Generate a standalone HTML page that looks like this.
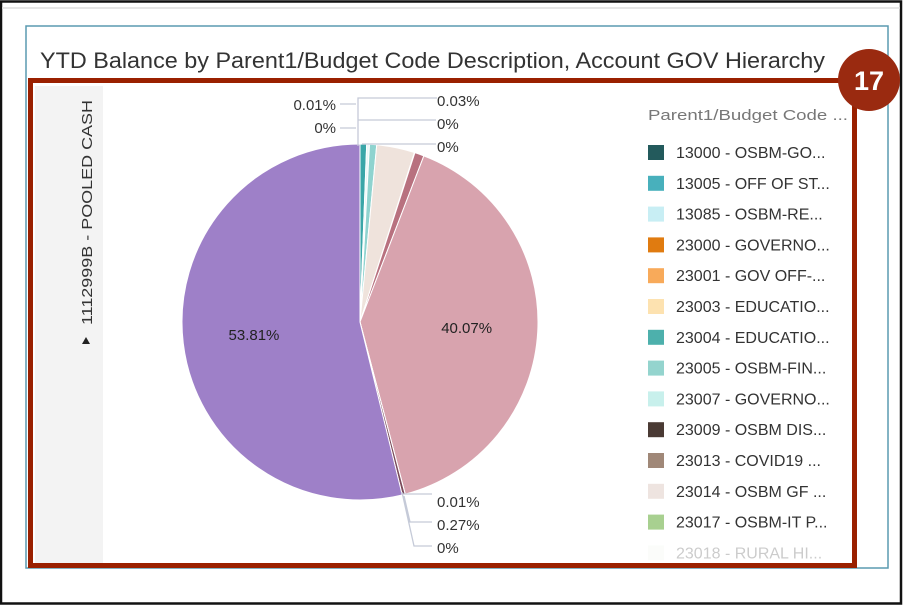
<!DOCTYPE html>
<html><head><meta charset="utf-8"><style>
body{margin:0;background:#fff;}
svg text{font-family:"Liberation Sans",sans-serif;}
</style></head><body>
<svg width="906" height="606" viewBox="0 0 906 606">
<rect x="1" y="1.5" width="900" height="602" fill="#fff" stroke="#111" stroke-width="2.5"/>
<line x1="2" y1="8" x2="900" y2="8" stroke="#ddd" stroke-width="1.5"/>
<rect x="26" y="26" width="862" height="542" fill="#fff" stroke="#5a9ab0" stroke-width="1.5"/>
<text x="40" y="68" font-size="22" fill="#333" textLength="785" lengthAdjust="spacingAndGlyphs">YTD Balance by Parent1/Budget Code Description, Account GOV Hierarchy</text>
<rect x="35" y="86" width="68" height="478" fill="#f3f3f3"/>
<text transform="translate(92,325) rotate(-90)" font-size="15" fill="#333" textLength="225" lengthAdjust="spacingAndGlyphs">1112999B - POOLED CASH</text>
<path d="M82,344 L86,337 L90,344Z" fill="#222"/>
<g id="pie"></g>
<g id="labels"></g>
<text x="648" y="120" font-size="15" fill="#777" textLength="200" lengthAdjust="spacingAndGlyphs">Parent1/Budget Code ...</text>
<g id="legend"></g>
<rect x="615" y="538" width="240" height="28" fill="#fff" opacity="0.75"/>
<rect x="30.5" y="80.5" width="824" height="485" fill="none" stroke="#9a2000" stroke-width="5"/>
<circle cx="869" cy="80" r="31" fill="#9a2a10"/>
<text x="869" y="90" font-size="27" font-weight="bold" fill="#fff" text-anchor="middle">17</text>
</svg>
<script>
const sliceNames=["13000","23007","23005","23014","23018","23015","23020","23021","23022","23023"];
const sliceValues=[0.6,0.25,0.65,3.45,0.04,0.85,40.07,0.01,0.27,53.81];
const sliceColors=["#3aa6a8","#eaf8f8","#8fd3cf","#efe3dc","#f6f2f0","#b8717f","#d8a3ae","#c8c0d8","#7a4a5a","#9e80c8"];
const sliceLabels=["","","","","","","40.07%","","","53.81%"];
const legendItems=["13000 - OSBM-GO...","13005 - OFF OF ST...","13085 - OSBM-RE...","23000 - GOVERNO...","23001 - GOV OFF-...","23003 - EDUCATIO...","23004 - EDUCATIO...","23005 - OSBM-FIN...","23007 - GOVERNO...","23009 - OSBM DIS...","23013 - COVID19 ...","23014 - OSBM GF ...","23017 - OSBM-IT P...","23018 - RURAL HI..."];
const legendColors=["#235a5c","#48b0bc","#c8eef4","#e07b10","#f8aa5a","#fde2b0","#4db0ac","#94d4ce","#c8f0ec","#4a3a34","#a08878","#eee4e0","#a8d090","#eef4ea"];
const topLeft=["0.01%","0%"],topRight=["0.03%","0%","0%"],bottomRight=["0.01%","0.27%","0%"];
const NS="http://www.w3.org/2000/svg";
const cx=360,cy=322,R=178;
function mk(t,a,p){const e=document.createElementNS(NS,t);for(const k in a)e.setAttribute(k,a[k]);p.appendChild(e);return e;}
function pt(a,r){return [cx+r*Math.sin(a),cy-r*Math.cos(a)];}
const total=sliceValues.reduce((a,b)=>a+b,0);
const pie=document.getElementById('pie');
let acc=0;
sliceValues.forEach((v,i)=>{
 const a0=acc/total*2*Math.PI;acc+=v;const a1=acc/total*2*Math.PI;
 const p0=pt(a0,R),p1=pt(a1,R);
 const p=mk('path',{d:`M${cx},${cy}L${p0[0]},${p0[1]}A${R},${R} 0 ${a1-a0>Math.PI?1:0} 1 ${p1[0]},${p1[1]}Z`,fill:sliceColors[i],stroke:'#fff','stroke-width':1},pie);
 
 
 if(sliceLabels[i]){const m=(a0+a1)/2;const q=pt(m,R*0.6);
  const t=mk('text',{x:q[0],y:q[1]+5,'font-size':15,fill:'#222','text-anchor':'middle'},pie);t.textContent=sliceLabels[i];
  
  }
});
const L=document.getElementById('labels');
const lc='#c5cad8';
function txt(x,y,s,anc){const t=mk('text',{x:x,y:y,'font-size':15,fill:'#333','text-anchor':anc},L);t.textContent=s;
 
 }
mk('path',{d:'M358,146V98H437',fill:'none',stroke:lc,'stroke-width':1.3},L);
mk('path',{d:'M358,120H436M362,144H436',fill:'none',stroke:lc,'stroke-width':1.3},L);
mk('path',{d:'M340,104H356M340,128H356',fill:'none',stroke:lc,'stroke-width':1.3},L);
topLeft.forEach((s,i)=>txt(336,110+i*23,s,'end'));
topRight.forEach((s,i)=>txt(437,106+i*23,s,'start'));
mk('path',{d:'M402,492L414,546H432M404,496L410,522H432M403,494H432',fill:'none',stroke:lc,'stroke-width':1.3},L);
bottomRight.forEach((s,i)=>txt(437,507+i*23,s,'start'));
const lg=document.getElementById('legend');
legendItems.forEach((s,i)=>{const y=152+i*30.8;
 const g=mk('g',{},lg);
 
 
 mk('rect',{x:648,y:y-7,width:16,height:15,fill:legendColors[i]},g);
 const t=mk('text',{x:676,y:y+6,'font-size':16,fill:'#333'},g);t.textContent=s;
});
</script>
</body></html>
